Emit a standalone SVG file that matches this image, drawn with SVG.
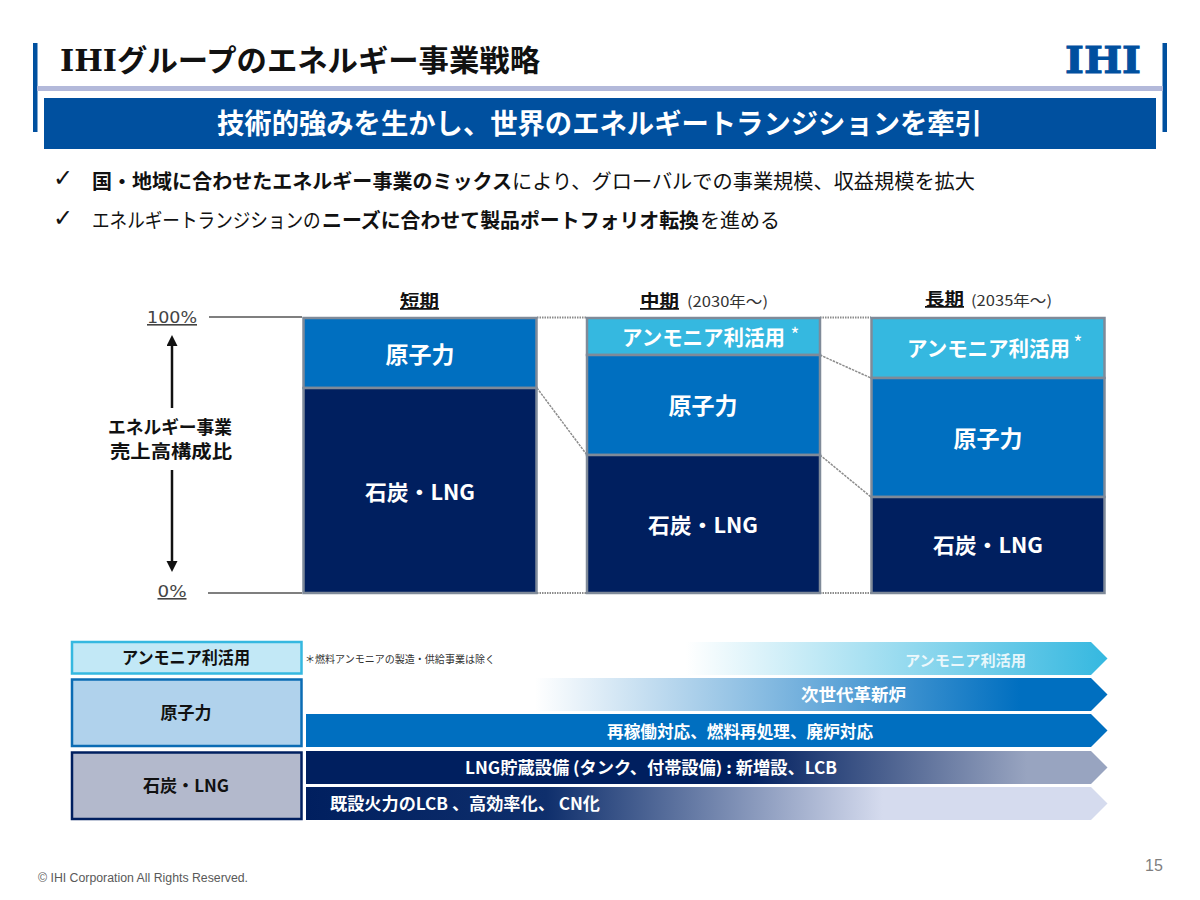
<svg xmlns="http://www.w3.org/2000/svg" width="1200" height="900" viewBox="0 0 1200 900">
<style>
text{font-family:"Noto Sans CJK JP","Noto Sans",sans-serif;}
.b{font-weight:700;}
.w{fill:#fff;font-weight:700;}
.k{fill:#111;}
.m{text-anchor:middle;}
.n{fill:#001f5f;stroke:#7f8a99;stroke-width:2.5;}
.c{fill:#006fc0;stroke:#7f8a99;stroke-width:2.5;}
.a{fill:#35b8e0;stroke:#7f8a99;stroke-width:2.5;}
.ax{stroke:#7f7f7f;stroke-width:2;fill:none;}
.dot{stroke:#8c8c8c;stroke-width:2;stroke-dasharray:1.5 1;fill:none;}
.dg{stroke:#8c8c8c;stroke-width:1.5;stroke-dasharray:2.5 1;fill:none;}
.h{fill:#111;font-weight:700;font-size:17.5px;text-decoration:underline;}
.y{fill:#333;font-size:14.5px;}
.bl{font-size:21px;}
.bn{font-size:23px;}
.st{font-size:19px;fill:#fff;font-weight:400;}
</style>
<defs>
<marker id="ah" markerWidth="13" markerHeight="13" refX="7" refY="5.500" orient="auto" markerUnits="userSpaceOnUse"><path d="M0 0L11 5.500L0 11Z" fill="#111"/></marker>
<linearGradient id="g1" gradientUnits="userSpaceOnUse" x1="686" y1="0" x2="1107" y2="0"><stop offset="0" stop-color="#fff"/><stop offset="1" stop-color="#35b8e0"/></linearGradient>
<linearGradient id="g2" gradientUnits="userSpaceOnUse" x1="535" y1="0" x2="1020" y2="0"><stop offset="0" stop-color="#fff"/><stop offset="1" stop-color="#006fc0"/></linearGradient>
<linearGradient id="g4" gradientUnits="userSpaceOnUse" x1="306" y1="0" x2="1107" y2="0"><stop offset="0" stop-color="#001f5f"/><stop offset="0.55" stop-color="#001f5f"/><stop offset="0.9" stop-color="#98a4c0"/><stop offset="1" stop-color="#98a4c0"/></linearGradient>
<linearGradient id="g5" gradientUnits="userSpaceOnUse" x1="306" y1="0" x2="1107" y2="0"><stop offset="0" stop-color="#001f5f"/><stop offset="0.3" stop-color="#0f2f6c"/><stop offset="0.72" stop-color="#d5dbee"/><stop offset="1" stop-color="#d5dbee"/></linearGradient>
</defs>
<rect width="1200" height="900" fill="#fff"/>

<g id="header">
<rect x="33" y="43" width="4.5" height="89" fill="#00509f"/>
<rect x="1162.5" y="43" width="4.5" height="89" fill="#00509f"/>
<rect x="37" y="86" width="1126" height="5" fill="#b3b9da"/>
<rect x="44" y="98" width="1112" height="51" fill="#00509f"/>
<text x="60" y="71" font-size="30" class="b k" textLength="480" lengthAdjust="spacingAndGlyphs"><tspan style="font-family:'DejaVu Serif',serif">IHI</tspan>グループのエネルギー事業戦略</text>
<text x="1065" y="73" font-size="38" font-weight="700" fill="#00509f" stroke="#00509f" stroke-width="1" style="font-family:'DejaVu Serif',serif" textLength="76" lengthAdjust="spacingAndGlyphs">IHI</text>
<text x="217" y="134" font-size="28" class="w" textLength="765" lengthAdjust="spacingAndGlyphs">技術的強みを生かし、世界のエネルギートランジションを牽引</text>
</g>

<g id="bullets">
<text x="53" y="186" font-size="24" class="k" style="font-family:'DejaVu Sans',sans-serif">✓</text>
<text x="53" y="226" font-size="24" class="k" style="font-family:'DejaVu Sans',sans-serif">✓</text>
<text x="92" y="189" font-size="20" class="b k" textLength="420" lengthAdjust="spacingAndGlyphs">国・地域に合わせたエネルギー事業のミックス</text>
<text x="512" y="189" font-size="20" class="k" textLength="463" lengthAdjust="spacingAndGlyphs">により、グローバルでの事業規模、収益規模を拡大</text>
<text transform="translate(92 228) scale(0.88 1)" font-size="20" class="k">エネルギートランジションの</text>
<text x="322" y="228" font-size="20" class="b k" textLength="377" lengthAdjust="spacingAndGlyphs">ニーズに合わせて製品ポートフォリオ転換</text>
<text x="700" y="228" font-size="20" class="k" textLength="80" lengthAdjust="spacingAndGlyphs">を進める</text>
</g>

<g id="axis">
<text x="172" y="323" font-size="16" fill="#444" class="m" text-decoration="underline" style="font-family:'DejaVu Sans',sans-serif" textLength="50" lengthAdjust="spacingAndGlyphs">100%</text>
<text x="172" y="597" font-size="16" fill="#444" class="m" text-decoration="underline" style="font-family:'DejaVu Sans',sans-serif" textLength="29" lengthAdjust="spacingAndGlyphs">0%</text>
<text x="170" y="434" font-size="18" class="b k m" textLength="124" lengthAdjust="spacingAndGlyphs">エネルギー事業</text>
<text x="171" y="458" font-size="18" class="b k m" textLength="122" lengthAdjust="spacingAndGlyphs">売上高構成比</text>
</g>

<g id="connectors">
<path class="ax" d="M209 317H302M208 593H302"/>
<path class="dot" d="M537 317.5H587M537 593H587M820 317.5H871M820 593H871"/>
<path class="dg" d="M537 388L587 455M820 355L871 378M820 455L871 497"/>
<path d="M172 408V339" stroke="#111" stroke-width="2.5" fill="none" marker-end="url(#ah)"/>
<path d="M172 470V568" stroke="#111" stroke-width="2.5" fill="none" marker-end="url(#ah)"/>
</g>

<g id="bar-short">
<text x="400" y="307" class="h" textLength="39" lengthAdjust="spacingAndGlyphs">短期</text>
<rect class="c" x="303.500" y="318" width="233" height="70"/>
<rect class="n" x="303.500" y="388" width="233" height="205"/>
<text x="420" y="363" class="w m bn">原子力</text>
<text x="420" y="500" class="w m bl" textLength="110" lengthAdjust="spacingAndGlyphs">石炭・LNG</text>
</g>

<g id="bar-mid">
<text x="640" y="307" class="h" textLength="39" lengthAdjust="spacingAndGlyphs">中期</text>
<text x="687" y="307" class="y" textLength="81" lengthAdjust="spacingAndGlyphs">(2030年～)</text>
<rect class="a" x="587" y="318" width="233" height="37"/>
<rect class="c" x="587" y="355" width="233" height="100"/>
<rect class="n" x="587" y="455" width="233" height="138"/>
<text x="622" y="345" class="w bl" textLength="163" lengthAdjust="spacingAndGlyphs">アンモニア利活用</text>
<text x="790.500" y="342" class="st">*</text>
<text x="703" y="414" class="w m bn" textLength="69" lengthAdjust="spacingAndGlyphs">原子力</text>
<text x="703" y="533" class="w m bl" textLength="110" lengthAdjust="spacingAndGlyphs">石炭・LNG</text>
</g>

<g id="bar-long">
<text x="925" y="305" class="h" textLength="39" lengthAdjust="spacingAndGlyphs">長期</text>
<text x="971" y="306" class="y" textLength="81" lengthAdjust="spacingAndGlyphs">(2035年～)</text>
<rect class="a" x="871.500" y="318" width="233" height="60"/>
<rect class="c" x="871.500" y="378" width="233" height="119"/>
<rect class="n" x="871.500" y="497" width="233" height="96"/>
<text x="907" y="356" class="w bl" textLength="163" lengthAdjust="spacingAndGlyphs">アンモニア利活用</text>
<text x="1073.500" y="350" class="st">*</text>
<text x="988" y="447" class="w m bn" textLength="69" lengthAdjust="spacingAndGlyphs">原子力</text>
<text x="988" y="553" class="w m bl" textLength="110" lengthAdjust="spacingAndGlyphs">石炭・LNG</text>
</g>

<g id="legend-ammonia">
<rect x="72" y="642" width="229.500" height="31.500" fill="#c2e8f6" stroke="#35b8e0" stroke-width="2.500"/>
<text x="186" y="664" font-size="17" class="b k m" textLength="128" lengthAdjust="spacingAndGlyphs">アンモニア利活用</text>
</g>
<g id="legend-nuclear">
<rect x="72" y="679.500" width="229.500" height="66.500" fill="#b0d2ec" stroke="#0b6cb4" stroke-width="2.500"/>
<text x="186" y="719" font-size="17" class="b k m">原子力</text>
</g>
<g id="legend-coal">
<rect x="72" y="752.500" width="229.500" height="66.500" fill="#b3b9cc" stroke="#001f5f" stroke-width="2.500"/>
<text x="186" y="792" font-size="17" class="b k m" textLength="86" lengthAdjust="spacingAndGlyphs">石炭・LNG</text>
</g>
<text x="305" y="663" font-size="10.500" fill="#333" textLength="190" lengthAdjust="spacingAndGlyphs">＊燃料アンモニアの製造・供給事業は除く</text>

<g id="arrow-ammonia">
<path d="M686 642H1091L1107.500 658.500L1091 675H686Z" fill="url(#g1)"/>
<text x="905" y="666" font-size="15" class="w" fill-opacity="0.85" textLength="121" lengthAdjust="spacingAndGlyphs">アンモニア利活用</text>
</g>
<g id="arrow-nextgen">
<path d="M535 678H1091L1107.500 694.500L1091 711H535Z" fill="url(#g2)"/>
<text x="801" y="701" font-size="17" class="w" textLength="105" lengthAdjust="spacingAndGlyphs">次世代革新炉</text>
</g>
<g id="arrow-restart">
<path d="M306 714H1091L1107.500 730.500L1091 747H306Z" fill="#006fc0"/>
<text x="607" y="738" font-size="16.500" class="w" textLength="266" lengthAdjust="spacingAndGlyphs">再稼働対応、燃料再処理、廃炉対応</text>
</g>
<g id="arrow-lng">
<path d="M306 751H1091L1107.500 767.500L1091 784H306Z" fill="url(#g4)"/>
<text x="465" y="774" font-size="16.500" class="w" textLength="372" lengthAdjust="spacingAndGlyphs">LNG貯蔵設備 (タンク、付帯設備) : 新増設、LCB</text>
</g>
<g id="arrow-existing">
<path d="M306 787H1091L1107.500 803.500L1091 820H306Z" fill="url(#g5)"/>
<text x="330" y="810" font-size="16.500" class="w" textLength="270" lengthAdjust="spacingAndGlyphs">既設火力のLCB 、高効率化、 CN化</text>
</g>

<g id="footer">
<text x="38" y="882" font-size="12.300" fill="#595959" style="font-family:'Liberation Sans',sans-serif">© IHI Corporation All Rights Reserved.</text>
<text x="1145" y="871" font-size="16" fill="#7f7f7f" style="font-family:'Liberation Sans',sans-serif">15</text>
</g>
</svg>
